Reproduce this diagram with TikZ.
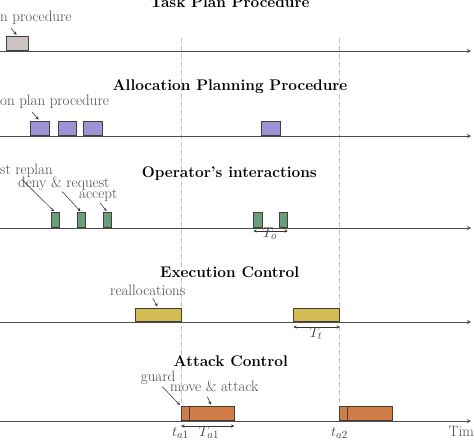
\documentclass[tikz,border=0pt]{standalone}
\usepackage{amsmath}
\usepackage{tikz}

\definecolor{tpfill}{HTML}{CDC2C2}
\definecolor{apfill}{HTML}{9D93D6}
\definecolor{opfill}{HTML}{689F79}
\definecolor{ecfill}{HTML}{D3BD52}
\definecolor{acfill}{HTML}{D17B45}

\begin{document}
\begin{tikzpicture}[x=1pt, y=-1pt, >=stealth,
        title/.style={font=\fontsize{15.4}{17}\selectfont\bfseries, inner sep=0pt, anchor=base},
        lbl/.style={font=\fontsize{15}{17}\selectfont, text=black!70, inner sep=0pt, anchor=base west},
        tlbl/.style={font=\fontsize{15}{17}\selectfont, text=black!75, inner sep=0pt, anchor=base},
        ev/.style={draw=black!75, line width=0.6pt, inner sep=0pt, anchor=south west},
        axis/.style={->, black!70, line width=0.8pt},
        note/.style={->, black!85, line width=0.5pt, shorten >=1.5pt},
        span/.style={<->, black!80, line width=0.5pt},
        guide/.style={black!25, line width=0.5pt, dash pattern=on 5pt off 3pt}]
    \useasboundingbox (0,0) rectangle (474,444);

    % guide lines
    \coordinate (g1t) at (181.5,38); \coordinate (g1b) at (181.5,421);
    \coordinate (g2t) at (339.3,38); \coordinate (g2b) at (339.3,421);
    \draw[guide] (g1t)--(g1b); \draw[guide] (g2t)--(g2b);

    % time axes
    \foreach \n/\y in {1/51, 2/136, 3/228, 4/322, 5/421} {
        \coordinate (ax\n w) at (0,\y); \coordinate (ax\n e) at (471,\y);
        \draw[axis] (ax\n w)--(ax\n e);
    }

    % titles
    \node[title] (tpt) at (230,7.3)   {Task Plan Procedure};
    \node[title] (apt) at (230,90.5)  {Allocation Planning Procedure};
    \node[title] (opt) at (229.3,177.3) {Operator's interactions};
    \node[title] (ect) at (229.7,277.3) {Execution Control};
    \node[title] (act) at (230.8,366.7) {Attack Control};

    % events
    \node[ev, fill=tpfill, minimum width=21.7pt, minimum height=14.3pt] (tp1) at (6.3,51) {};
    \foreach \i/\x in {1/30, 2/57.7, 3/83, 4/261}
        \node[ev, fill=apfill, minimum width=18.5pt, minimum height=14.7pt] (ap\i) at (\x,136) {};
    \foreach \i/\x in {1/50.7, 2/77, 3/103, 4/253.3, 5/279}
        \node[ev, fill=opfill, minimum width=8.2pt, minimum height=15pt] (op\i) at (\x,228) {};
    \foreach \i/\x in {1/135, 2/293.3}
        \node[ev, fill=ecfill, minimum width=46pt, minimum height=13.7pt] (ec\i) at (\x,322) {};
    \node[ev, fill=acfill, minimum width=8pt, minimum height=14.3pt] (ac1g) at (181,421) {};
    \node[ev, fill=acfill, minimum width=44.7pt, minimum height=14.3pt] (ac1m) at (189,421) {};
    \node[ev, fill=acfill, minimum width=7.7pt, minimum height=14.3pt] (ac2g) at (339.3,421) {};
    \node[ev, fill=acfill, minimum width=45.3pt, minimum height=14.3pt] (ac2m) at (347,421) {};

    % labels
    \node[lbl] (tpl) at (0,21.7) {n procedure};
    \node[lbl] (apl) at (0,105) {on plan procedure};
    \node[lbl] (rpl) at (0,174.3) {st replan};
    \node[lbl] (dnl) at (18,187.3) {deny \& request};
    \node[lbl] (acl) at (79,198.3) {accept};
    \node[lbl] (ral) at (110,295) {reallocations};
    \node[lbl] (gdl) at (140.7,381.7) {guard};
    \node[lbl] (mvl) at (170,391.7) {move \& attack};
    \node[lbl] (tml) at (448.5,436) {Tim};

    % pointers
    \coordinate (tpf) at (11,28);      \draw[note] (tpf)--(tp1.north);
    \coordinate (apf) at (32,112);     \draw[note] (apf)--(ap1.north);
    \coordinate (rpf) at (21.7,179.3); \draw[note] (rpf)--(op1.north);
    \coordinate (dnf) at (62.3,191.7); \draw[note] (dnf)--(op2.north);
    \coordinate (acf) at (100,202.7);  \draw[note] (acf)--(op3.north);
    \coordinate (raf) at (152.7,298.3); \draw[note] (raf)--(ec1.north);
    \coordinate (gdf) at (162.3,386.7); \draw[note] (gdf)--(ac1g.north west);
    \coordinate (mvf) at (207.3,396.7); \draw[note] (mvf)--(ac1m.north);

    % periods
    \draw[span] ([yshift=-3pt]op4.south west)--([yshift=-3pt]op5.south east);
    \draw[span] ([yshift=-5pt]ec2.south west)--([yshift=-5pt]ec2.south east);
    \draw[span] ([yshift=-5pt]ac1g.south west)--([yshift=-5pt]ac1m.south east);
    \node[tlbl] (tol) at (270,237.5) {$T_o$};
    \node[tlbl] (ttl) at (316,337.3) {$T_t$};
    \node[tlbl] (ta1) at (180.5,436.7) {$t_{a1}$};
    \node[tlbl] (Ta1) at (209,436.7) {$T_{a1}$};
    \node[tlbl] (ta2) at (339.5,436.7) {$t_{a2}$};
\end{tikzpicture}
\end{document}
